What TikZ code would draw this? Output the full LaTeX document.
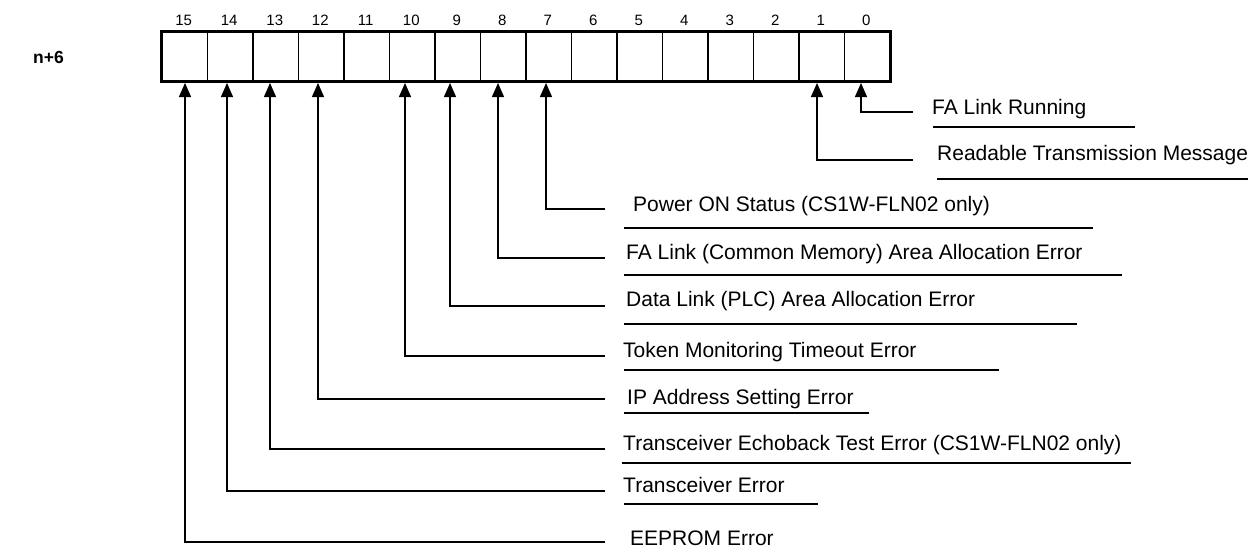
\documentclass[tikz,border=0pt]{standalone}
\usepackage{fontspec}
\setmainfont{Liberation Sans}
\usetikzlibrary{arrows.meta}
\begin{document}
\begin{tikzpicture}[x=1pt,y=-1pt,
  cellbox/.style={draw,line width=1.6pt,minimum width=45.5pt,minimum height=49pt,inner sep=0,anchor=north west},
  bitnum/.style={font=\fontsize{15}{17}\selectfont,inner sep=0},
  lbl/.style={font=\fontsize{21}{24}\selectfont,inner sep=0,anchor=base west},
  conn/.style={line width=1.3pt,-{Triangle[length=14pt,width=12pt]}},
  sep/.style={line width=2pt}]
\useasboundingbox (0,0) rectangle (1254,555);
% register label
\node[font=\bfseries\fontsize{17.5}{20}\selectfont,inner sep=0,anchor=west] (reg) at (33,57) {n+6};
% cells
\foreach \i in {0,...,15}{
  \pgfmathtruncatemacro\b{15-\i}
  \node[cellbox] (c\b) at ({161+45.5*\i},31) {};
  \node[bitnum] (n\b) at ({161+45.5*(\i+0.5)},20) {\b};
}
\draw[line width=3pt] (c15.north west) rectangle (c0.south east);
% arrow tips and free ends
\foreach \b/\x/\y/\e in {0/861/112/913,1/817/160/913,7/546/209/605,8/498/258/605,9/450/306/605,10/405/356/605,12/318/399/605,13/270/449/605,14/227/491/605,15/185/542/605}{
  \coordinate (t\b) at (\x,83);
  \coordinate (e\b) at (\e,\y);
}
% labels
\node[lbl] (l0) at (932,114) {FA Link Running};
\node[lbl] (l1) at (937,160) {Readable Transmission Message};
\node[lbl] (l7) at (633,211) {Power ON Status (CS1W-FLN02 only)};
\node[lbl] (l8) at (626,259) {FA Link (Common Memory) Area Allocation Error};
\node[lbl] (l9) at (626,306) {Data Link (PLC) Area Allocation Error};
\node[lbl] (l10) at (623,357) {Token Monitoring Timeout Error};
\node[lbl] (l12) at (627,404) {IP Address Setting Error};
\node[lbl] (l13) at (623,450) {Transceiver Echoback Test Error (CS1W-FLN02 only)};
\node[lbl] (l14) at (623,492) {Transceiver Error};
\node[lbl] (l15) at (630,545) {EEPROM Error};
% connectors
\foreach \b in {0,1,7,8,9,10,12,13,14,15}{
  \draw[conn] (e\b) -| (t\b);
}
% separator rules
\foreach \y/\xa/\xb in {127/933/1135,179/937/1248,228/624/1093,275/624/1122,324/624/1077,370/624/999,413/624/869,463/622/1131,504/624/818}{
  \draw[sep] (\xa,\y) -- (\xb,\y);
}
\end{tikzpicture}
\end{document}
